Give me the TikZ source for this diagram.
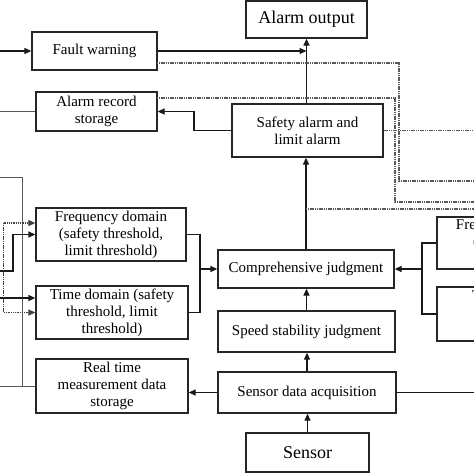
\documentclass[tikz,border=0pt]{standalone}
\usepackage{fontspec}
\setmainfont{Liberation Serif}
\usetikzlibrary{arrows.meta}
\tikzset{
  box/.style={draw=black!85, line width=1.3pt, inner sep=0pt, align=center, font=\fontsize{15}{17}\selectfont},
  bigbox/.style={box, font=\fontsize{18}{20}\selectfont},
  conn/.style={line width=1.3pt, black!90},
  arr/.style={conn, -{Triangle[length=7pt,width=6pt]}},
  thin/.style={line width=0.8pt, black!65},
  dots/.style={line width=1.2pt, black!65, dash pattern=on 1.1pt off 0.7pt},
  darr/.style={dots, -{Triangle[length=7pt,width=6pt]}, black!75},
}
\begin{document}
\begin{tikzpicture}[x=1pt,y=-1pt]
\useasboundingbox (0,0) rectangle (474,474);
\clip (0,0) rectangle (474,474);
% nodes
\node[bigbox, minimum width=121pt, minimum height=37pt] (AO) at (306.5,19.5) {Alarm output};
\node[box, minimum width=125pt, minimum height=38pt] (FW) at (94.5,51) {Fault warning};
\node[box, minimum width=121pt, minimum height=39pt] (ARS) at (96.5,111.5) {Alarm record\\storage};
\node[box, minimum width=151pt, minimum height=53pt] (SA) at (307.5,130.5) {Safety alarm and\\limit alarm};
\node[box, minimum width=150pt, minimum height=53pt] (FD) at (111,234.5) {Frequency domain\\(safety threshold,\\limit threshold)};
\node[box, minimum width=152pt, minimum height=53pt] (TD) at (112,312.5) {Time domain (safety\\threshold, limit\\threshold)};
\node[box, minimum width=152pt, minimum height=54pt] (RT) at (112,386) {Real time\\measurement data\\storage};
\node[box, minimum width=176pt, minimum height=38pt] (CJ) at (306,269) {Comprehensive judgment};
\node[box, minimum width=177pt, minimum height=41pt] (SS) at (306.5,331.5) {Speed stability judgment};
\node[box, minimum width=178pt, minimum height=41pt] (SD) at (307,392.5) {Sensor data acquisition};
\node[bigbox, minimum width=123pt, minimum height=39pt] (SE) at (307.5,452.5) {Sensor};
\node[box, minimum width=150pt, minimum height=52pt] (RF) at (512,243) {Frequency domain\\(safety limit)\\threshold)};
\node[box, minimum width=150pt, minimum height=54pt] (RT2) at (512,314) {Time domain\\(safety\\threshold)};
% free-end coordinates
\coordinate (fwin) at (0,51);
\coordinate (arsout) at (0,111.5);
\coordinate (dfw1) at (157,63);
\coordinate (dfw2) at (399,63);
\coordinate (dfw3) at (399,181);
\coordinate (dfw4) at (474,181);
\coordinate (dar1) at (157,98);
\coordinate (dar2) at (395,98);
\coordinate (dar3) at (395,202);
\coordinate (dar4) at (474,202);
\coordinate (dsa) at (474,130.5);
\coordinate (dcj1) at (306,209);
\coordinate (dcj2) at (474,209);
\coordinate (sa1) at (194,130.5);
\coordinate (sa2) at (194,111.5);
\coordinate (sdout) at (474,392.5);
\coordinate (lb1) at (200,234.5);
\coordinate (lb2) at (200,312.5);
\coordinate (lb3) at (200,269);
\coordinate (rb1) at (422,243);
\coordinate (rb2) at (422,314);
\coordinate (rb3) at (422,269);
\coordinate (lv0) at (0,177);
\coordinate (lv1) at (22,177);
\coordinate (lv2) at (22,386);
\coordinate (rtout) at (0,386);
\coordinate (sl0) at (0,271);
\coordinate (sl1) at (13,271);
\coordinate (sl2) at (13,234.5);
\coordinate (st0) at (0,298);
\coordinate (dl1) at (3.5,223);
\coordinate (dl2) at (3.5,312.5);
% main vertical chain
\draw[arr] (SE.north) -- (SE.north |- SD.south);
\draw[arr] (SD.north) -- (SD.north |- SS.south);
\draw[arr] (SS.north) -- (SS.north |- CJ.south);
\draw[arr] (CJ.north) -- (CJ.north |- SA.south);
\draw[arr] (SA.north -| AO.south) -- (AO.south);
% fault warning
\draw[arr] (fwin) -- (FW.west);
\draw[arr] (FW.east) -- (FW.east -| AO.south);
% safety alarm to alarm record
\draw[arr] (SA.west) -- (sa1) -- (sa2) -- (ARS.east);
\draw[thin] (ARS.west) -- (arsout);
% dotted lines
\draw[dots] (dfw1) -- (dfw2) -- (dfw3) -- (dfw4);
\draw[dots] (dar1) -- (dar2) -- (dar3) -- (dar4);
\draw[dots] (SA.east) -- (dsa);
\draw[dots] (dcj1) -- (dcj2);
% sensor data acquisition
\draw[arr] (SD.west) -- (SD.west -| RT.east);
\draw[conn] (SD.east) -- (sdout);
% left bracket
\draw[conn] (FD.east) -- (lb1) -- (lb2) -- (TD.east);
\draw[arr] (lb3) -- (CJ.west);
% right bracket
\draw[conn] (RF.west) -- (rb1) -- (rb2) -- (RT2.west);
\draw[arr] (rb3) -- (CJ.east);
% left side lines
\draw[thin] (lv0) -- (lv1) -- (lv2);
\draw[thin] (rtout) -- (RT.west);
\draw[arr] (sl0) -- (sl1) -- (sl2) -- (FD.west);
\draw[arr] (st0) -- (st0 -| TD.west);
\draw[darr] (dl1) -- (dl1 -| FD.west);
\draw[darr] (dl1) -- (dl2) -- (TD.west);
\end{tikzpicture}
\end{document}
